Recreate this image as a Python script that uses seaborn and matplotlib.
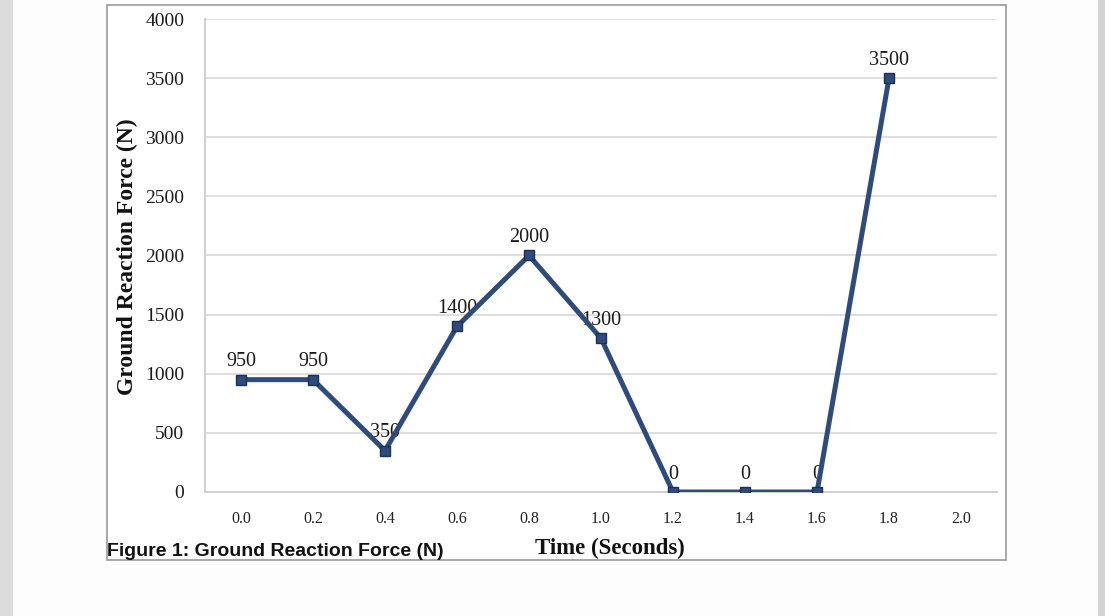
import matplotlib
matplotlib.use("Agg")
import matplotlib.pyplot as plt
import matplotlib.patches as mpatches
import numpy as np
import pandas as pd
import seaborn as sns

# values
times = [0.0, 0.2, 0.4, 0.6, 0.8, 1.0, 1.2, 1.4, 1.6, 1.8]
force = [950, 950, 350, 1400, 2000, 1300, 0, 0, 0, 3500]
tick_times = [0.0, 0.2, 0.4, 0.6, 0.8, 1.0, 1.2, 1.4, 1.6, 1.8, 2.0]
y_ticks = [0, 500, 1000, 1500, 2000, 2500, 3000, 3500, 4000]

sns.set_style("white")
plt.rcParams["font.family"] = ["Liberation Serif", "DejaVu Serif"]

df = pd.DataFrame({"time": times, "force": force})

fig = plt.figure(figsize=(11.05, 6.16), dpi=100)
fig.patch.set_facecolor("#fdfdfd")

# page edges / chart frame
fig.patches.append(mpatches.Rectangle((0, 0), 13 / 1105, 1, transform=fig.transFigure,
                                      facecolor="#dcdcdc", edgecolor="none", zorder=-2))
fig.patches.append(mpatches.Rectangle((1098 / 1105, 0), 7 / 1105, 1, transform=fig.transFigure,
                                      facecolor="#d4d4d4", edgecolor="none", zorder=-2))
fig.patches.append(mpatches.Rectangle((107 / 1105, 1 - 560 / 616), 899 / 1105, 555 / 616,
                                      transform=fig.transFigure, facecolor="white",
                                      edgecolor="#9a9a9a", linewidth=1.2, zorder=-1))

ax = fig.add_axes([205 / 1105, 1 - 492 / 616, 792 / 1105, 473 / 616])
ax.set_facecolor("none")
ax.set_zorder(2)

sns.lineplot(data=df, x="time", y="force", ax=ax, color="#2F4B7C", linewidth=3.6,
             marker="s", markersize=7, markerfacecolor="#2F4B7C",
             markeredgecolor="#1C2F55", markeredgewidth=1, zorder=5)

for t, f in zip(times, force):
    ax.annotate(f"{f}", (t, f), xytext=(0, 6), textcoords="offset points",
                ha="center", va="bottom", fontsize=14.5, color="#1a1a1a", zorder=4)

ax.set_xlim(-0.1, 2.1)
ax.set_ylim(0, 4000)
ax.set_yticks(y_ticks)
ax.set_xticks(tick_times)
ax.set_xticklabels([f"{t:.1f}" for t in tick_times])
ax.set_xticks(np.arange(-0.1, 2.15, 0.2), minor=True)

ax.grid(axis="y", color="#dedede", linewidth=1.4)
ax.set_axisbelow(True)
for side in ["top", "right"]:
    ax.spines[side].set_visible(False)
for side in ["left", "bottom"]:
    ax.spines[side].set_color("#d0d0d0")
    ax.spines[side].set_linewidth(1.4)

ax.tick_params(axis="y", length=7, width=1.2, color="#d0d0d0", pad=8, labelsize=14,
               labelcolor="#1a1a1a")
ax.tick_params(axis="x", which="major", length=0, pad=14, labelsize=11.5, labelcolor="#222222")
ax.tick_params(axis="x", which="minor", length=5, width=1.2, color="#d0d0d0")

ax.set_xlabel("")
ax.set_ylabel("")
fig.text(127 / 1105, 1 - 257 / 616, "Ground Reaction Force (N)", rotation=90,
         ha="center", va="center", fontsize=17, fontweight="bold", color="#111111")
fig.text(610 / 1105, 1 - 548 / 616, "Time (Seconds)", ha="center", va="center",
         fontsize=16.5, fontweight="bold", color="#111111")
fig.text(107 / 1105, 1 - 556 / 616, "Figure 1: Ground Reaction Force (N)", ha="left",
         va="baseline", fontsize=14, fontweight="bold", color="#111111",
         family=["Liberation Sans", "DejaVu Sans"])

fig.savefig("out.png", dpi=100, facecolor=fig.get_facecolor())
